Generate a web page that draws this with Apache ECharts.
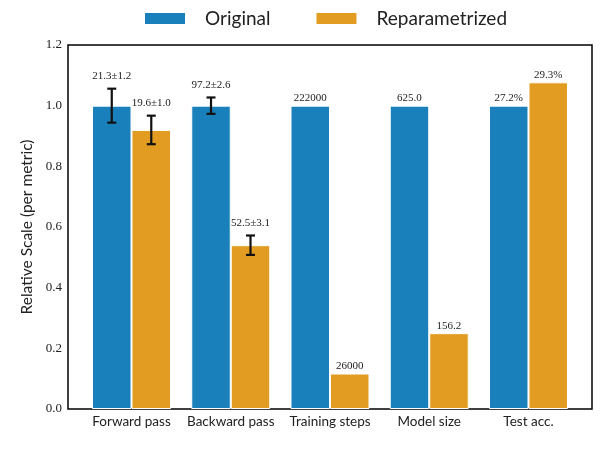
<!DOCTYPE html>
<html>
<head>
<meta charset="utf-8">
<script src="https://cdn.jsdelivr.net/npm/echarts@6/dist/echarts.min.js"></script>
<style>
  html, body { margin: 0; padding: 0; background: #fff; }
  #chart { width: 609px; height: 464px; }
</style>
</head>
<body>
<div id="chart"></div>
<script>
// data (relative to Original)
const categories = ['Forward pass', 'Backward pass', 'Training steps', 'Model size', 'Test acc.'];
const originalValues = [1, 1, 1, 1, 1];
const reparamValues = [0.92, 0.54, 0.117, 0.25, 1.077];
const originalErr = [0.056, 0.027, 0, 0, 0];
const reparamErr = [0.047, 0.032, 0, 0, 0];
const originalLabels = ['21.3±1.2', '97.2±2.6', '222000', '625.0', '27.2%'];
const reparamLabels = ['19.6±1.0', '52.5±3.1', '26000', '156.2', '29.3%'];
const xTicks = [0, 1, 2, 3, 4];

const BLUE = '#1a80bb';
const ORANGE = '#e29c22';
const barW = 39.5;
const serif = '"Liberation Serif", "DejaVu Serif", serif';
const sans = 'Lato, "Open Sans", sans-serif';

// error bars + value text, drawn over a bar shifted by +/- half a bar
function errRenderer(sign, labels) {
    return function (params, api) {
        const x = api.value(0);
        const v = api.value(1);
        const e = api.value(2);
        const top = api.coord([x, v + e]);
        const low = api.coord([x, v - e]);
        const cx = top[0] + sign * barW / 2;
        const children = [];
        if (e > 0) {
            const st = { stroke: '#111', lineWidth: 2.2 };
            children.push({ type: 'line', shape: { x1: cx, y1: top[1], x2: cx, y2: low[1] }, style: st });
            children.push({ type: 'line', shape: { x1: cx - 4.5, y1: top[1], x2: cx + 4.5, y2: top[1] }, style: st });
            children.push({ type: 'line', shape: { x1: cx - 4.5, y1: low[1], x2: cx + 4.5, y2: low[1] }, style: st });
        }
        children.push({
            type: 'text',
            x: cx,
            y: top[1] - (e > 0 ? 7 : 2),
            style: {
                text: labels[params.dataIndex],
                fontFamily: serif,
                fontSize: 11,
                fill: '#222',
                align: 'center',
                verticalAlign: 'bottom'
            }
        });
        return { type: 'group', children: children };
    };
}

const chart = echarts.init(document.getElementById('chart'));
const option = {
    animation: false,
    legend: {
        data: ['Original', 'Reparametrized'],
        top: 9,
        left: 143,
        padding: 0,
        icon: 'rect',
        itemWidth: 42,
        itemHeight: 13,
        itemGap: 44,
        textStyle: { fontFamily: sans, fontSize: 19, color: '#222', padding: [0, 0, 0, 14] }
    },
    grid: {
        left: 68, right: 17, top: 45, bottom: 55,
        show: true, borderColor: '#000', borderWidth: 1.5, backgroundColor: 'transparent'
    },
    xAxis: {
        type: 'value',
        min: -0.64,
        max: 4.64,
        splitLine: { show: false },
        axisLine: { show: false },
        axisTick: { show: false },
        axisLabel: {
            customValues: xTicks,
            formatter: v => categories[Math.round(v)] || '',
            fontFamily: sans,
            fontSize: 13.5,
            color: '#222',
            margin: 6
        }
    },
    yAxis: {
        type: 'value',
        min: 0,
        max: 1.2,
        interval: 0.2,
        name: 'Relative Scale (per metric)',
        nameLocation: 'middle',
        nameGap: 28,
        nameTextStyle: { fontFamily: sans, fontSize: 15.5, color: '#222' },
        splitLine: { show: false },
        axisLine: { show: false },
        axisTick: { show: false },
        axisLabel: {
            formatter: v => v.toFixed(1),
            fontFamily: serif,
            fontSize: 13,
            color: '#222',
            margin: 6
        }
    },
    series: [
        {
            name: 'Original',
            type: 'bar',
            barWidth: barW,
            barGap: '0%',
            itemStyle: { color: BLUE, borderColor: '#fff', borderWidth: 1 },
            data: originalValues.map((v, i) => [i, v])
        },
        {
            name: 'Reparametrized',
            type: 'bar',
            barWidth: barW,
            barGap: '0%',
            itemStyle: { color: ORANGE, borderColor: '#fff', borderWidth: 1 },
            data: reparamValues.map((v, i) => [i, v])
        },
        {
            name: 'err-orig',
            type: 'custom',
            z: 5,
            renderItem: errRenderer(-1, originalLabels),
            data: originalValues.map((v, i) => [i, v, originalErr[i]])
        },
        {
            name: 'err-rep',
            type: 'custom',
            z: 5,
            renderItem: errRenderer(1, reparamLabels),
            data: reparamValues.map((v, i) => [i, v, reparamErr[i]])
        }
    ]
};
chart.setOption(option);
</script>
</body>
</html>
